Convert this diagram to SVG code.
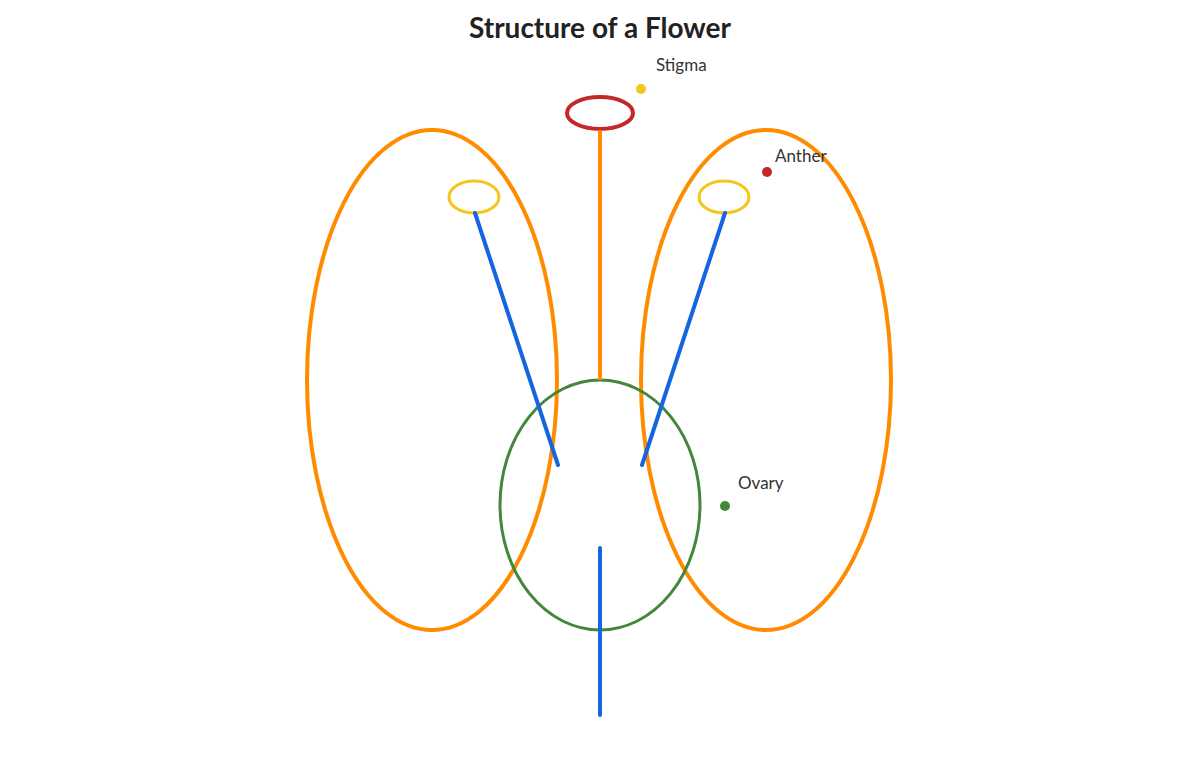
<svg xmlns="http://www.w3.org/2000/svg" width="1200" height="763" viewBox="0 0 1200 763">
<style>
.petal{fill:none;stroke:#FF8C00;stroke-width:4}
.anth{fill:none;stroke:#F5C518;stroke-width:3}
.fil{stroke:#1565E0;stroke-width:4;stroke-linecap:round}
.lbl{font-family:Lato,"Liberation Sans",sans-serif;font-size:17px;fill:#333}
</style>
<rect width="1200" height="763" fill="#fff"/>
<text x="600" y="38" text-anchor="middle" font-family="Lato,'Liberation Sans',sans-serif" font-size="28" font-weight="bold" fill="#222">Structure of a Flower</text>
<g id="petal-left"><ellipse class="petal" cx="432" cy="380" rx="125" ry="250"/></g>
<g id="petal-right"><ellipse class="petal" cx="766" cy="380" rx="125" ry="250"/></g>
<g id="ovary"><ellipse cx="600" cy="505" rx="100" ry="125" fill="none" stroke="#43883A" stroke-width="3"/></g>
<g id="stigma"><ellipse cx="600" cy="113" rx="33" ry="16" fill="none" stroke="#C62828" stroke-width="4"/></g>
<g id="anther-left"><ellipse class="anth" cx="474" cy="197" rx="25" ry="16"/></g>
<g id="anther-right"><ellipse class="anth" cx="724" cy="197" rx="25" ry="16"/></g>
<g id="connectors">
<line x1="600" y1="130" x2="600" y2="380" stroke="#FF8C00" stroke-width="4"/>
<line class="fil" x1="475" y1="213" x2="558" y2="465"/>
<line class="fil" x1="725" y1="213" x2="642" y2="465"/>
<line class="fil" x1="600" y1="548" x2="600" y2="715"/>
</g>
<g id="label-stigma"><circle cx="641" cy="89" r="5" fill="#F5C518"/><text class="lbl" x="656" y="71">Stigma</text></g>
<g id="label-anther"><circle cx="767" cy="172" r="5" fill="#C62828"/><text class="lbl" x="775" y="162">Anther</text></g>
<g id="label-ovary"><circle cx="725" cy="506" r="5" fill="#43883A"/><text class="lbl" x="738" y="489">Ovary</text></g>
</svg>
